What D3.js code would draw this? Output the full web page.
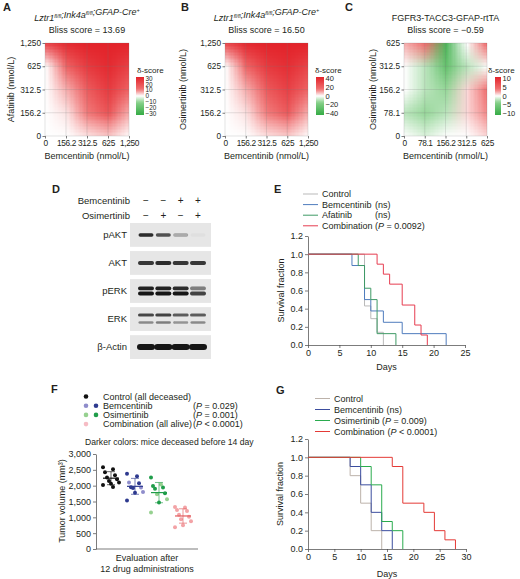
<!DOCTYPE html>
<html>
<head>
<meta charset="utf-8">
<script src="https://cdn.jsdelivr.net/npm/d3@7"></script>
<style>
body { margin: 0; background: #fff; }
svg { display: block; font-family: "Liberation Sans", Arial, sans-serif; }
text { fill: #231f20; }
</style>
</head>
<body>
<svg id="fig" width="520" height="579"></svg>
<script>
// ---- Data ----
// dose grids (tick labels)
const concA = ["0", "156.2", "312.5", "625", "1,250"];
const concC = ["0", "78.1", "156.2", "312.5", "625"];

// delta-scores at each dose pair, rows from highest dose (top) down to 0
const deltaA = [
    [22, 28, 30, 30, 30],
    [0, 14, 24, 28, 22],
    [0, 6, 16, 24, 14],
    [0, 2, 10, 18, 6],
    [0, 0, 2, 4, 0]
];
const deltaB = [
    [28, 38, 40, 40, 40],
    [0, 18, 32, 36, 28],
    [0, 8, 22, 30, 18],
    [0, 3, 13, 22, 8],
    [0, 0, 3, 5, 0]
];
const deltaC = [
    [2, 4, -8, 0, 5],
    [0, -2, -6, -2, 0],
    [0, -2, -3, 1, 4],
    [-2, -3, -2, 1, 3],
    [0, -1, 0, 0, 1]
];

// western blot band intensities per lane
const bemSigns = ["−", "−", "+", "+"];
const osiSigns = ["−", "+", "−", "+"];
const blotRows = ["pAKT", "AKT", "pERK", "ERK", "β-Actin"];
const pAKT = [0.9, 0.7, 0.3, 0.03];
const AKT = [0.85, 0.9, 0.85, 0.85];
const pERKupper = [0.95, 0.95, 0.9, 0.5];
const pERKlower = [1, 1, 1, 0.8];
const ERKupper = [0.75, 0.8, 0.65, 0.65];
const ERKlower = [0.45, 0.5, 0.4, 0.45];
const actin = [1, 1, 1, 1];

// survival curves E, [day, fraction]
const survEControl = [[0, 1], [9, 0.43], [10, 0.29], [11, 0.14], [12, 0]];
const survEBem = [[0, 1], [7, 0.875], [9, 0.5], [10, 0.375], [12, 0.25], [15, 0.125], [22, 0]];
const survEAfa = [[0, 1], [8, 0.875], [9, 0.625], [10, 0.5], [11, 0.125], [14, 0]];
const survECombo = [[0, 1], [11, 0.89], [12, 0.78], [13, 0.67], [15, 0.44], [17, 0.22], [18, 0.11], [19, 0]];

// survival curves G
const survGControl = [[0, 1], [8, 0.8], [10, 0.5], [12, 0.2], [14, 0]];
const survGBem = [[0, 1], [8, 0.9], [10, 0.7], [12, 0.4], [14, 0.2], [16, 0]];
const survGOsi = [[0, 1], [10, 0.9], [12, 0.7], [14, 0.3], [16, 0.2], [18, 0]];
const survGCombo = [[0, 1], [16, 0.9], [18, 0.5], [22, 0.4], [24, 0.2], [26, 0.1], [28, 0]];

// tumor volumes F (mm3), 1 = deceased before day 14
const groupsF = ["Control", "Bemcentinib", "Osimertinib", "Combination"];
const volControl = [2580, 2520, 2420, 2330, 2260, 2200, 2150, 2100, 2060, 2020, 1960];
const volBem = [2380, 2300, 2100, 2080, 1950, 1940, 1930, 1800, 1780, 1530];
const deadBem = [1, 1, 0, 1, 1, 0, 1, 0, 1, 1];
const volOsi = [2260, 2040, 1990, 1940, 1900, 1760, 1730, 1570, 1470, 1150];
const deadOsi = [1, 0, 1, 1, 1, 1, 0, 0, 1, 0];
const volCombo = [1330, 1310, 1230, 1200, 1080, 1020, 940, 880, 750, 690];

// ---- Drawing ----
const svg = d3.select("#fig");
const defs = svg.append("defs");
const red = "#e3232a", green = "#35ab45";
const font = "Liberation Sans, Arial, sans-serif";

function styleAxis(a, size) {
    a.attr("font-family", font).attr("font-size", size);
    a.selectAll("text").attr("fill", "#231f20");
    a.selectAll("line").attr("stroke", "#444").attr("stroke-width", 0.7);
    a.select(".domain").attr("stroke", "#444").attr("stroke-width", 0.7);
}

function panelLabel(txt, x, y) {
    svg.append("text").attr("x", x).attr("y", y)
        .attr("font-size", 11).attr("font-weight", "bold").text(txt);
}

function heatPanel(o) {
    const g = svg.append("g");
    const x = d3.scalePoint().domain(o.xConc).range([o.left, o.right]);
    const y = d3.scalePoint().domain(o.yConc).range([o.bottom, o.top]);
    const L = o.lim;
    const color = d3.scaleLinear()
        .domain([-L, -0.35 * L, 0, 0.35 * L, L])
        .range([green, "#86d089", "#ffffff", "#f07272", red]).clamp(true);

    // the dose grid is painted into a tiny canvas and smoothed by the browser
    const n = o.xConc.length, m = o.yConc.length;
    const cv = document.createElement("canvas");
    cv.width = n;
    cv.height = m;
    const ctx = cv.getContext("2d");
    const img = ctx.createImageData(n, m);
    o.values.forEach((row, r) => row.forEach((v, c) => {
        const col = d3.rgb(color(v));
        const i = (r * n + c) * 4;
        img.data[i] = col.r;
        img.data[i + 1] = col.g;
        img.data[i + 2] = col.b;
        img.data[i + 3] = 255;
    }));
    ctx.putImageData(img, 0, 0);

    defs.append("clipPath").attr("id", o.id + "clip").append("rect")
        .attr("x", o.left).attr("y", o.top)
        .attr("width", o.right - o.left).attr("height", o.bottom - o.top);
    g.append("image")
        .attr("href", cv.toDataURL())
        .attr("x", o.left - x.step() / 2).attr("y", o.top - y.step() / 2)
        .attr("width", x.step() * n).attr("height", y.step() * m)
        .attr("preserveAspectRatio", "none")
        .attr("clip-path", `url(#${o.id}clip)`);

    // grid
    g.selectAll(".vg").data(o.xConc).join("line")
        .attr("x1", d => x(d)).attr("x2", d => x(d))
        .attr("y1", o.top).attr("y2", o.bottom)
        .attr("stroke", "#777").attr("stroke-opacity", 0.35).attr("stroke-width", 0.6);
    g.selectAll(".hg").data(o.yConc).join("line")
        .attr("y1", d => y(d)).attr("y2", d => y(d))
        .attr("x1", o.left).attr("x2", o.right)
        .attr("stroke", "#777").attr("stroke-opacity", 0.35).attr("stroke-width", 0.6);

    const ay = g.append("g").attr("transform", `translate(${o.left},0)`)
        .call(d3.axisLeft(y).tickSize(2.5).tickPadding(1.5));
    const ax = g.append("g").attr("transform", `translate(0,${o.bottom})`)
        .call(d3.axisBottom(x).tickSize(2.5).tickPadding(1.5));
    [ay, ax].forEach(a => { styleAxis(a, 8.3); a.select(".domain").remove(); });
    ax.selectAll("text").attr("letter-spacing", -0.35);

    // titles
    const cx = (o.left + o.right) / 2;
    const t = g.append("text").attr("x", cx).attr("y", 21)
        .attr("text-anchor", "middle").attr("font-size", 9)
        .attr("font-style", o.italic ? "italic" : null);
    o.title.forEach(([s, sup]) => {
        if (sup) {
            t.append("tspan").attr("dy", -3).attr("font-size", 5.5).text(s);
            t.append("tspan").attr("dy", 3).text("");
        } else {
            t.append("tspan").text(s);
        }
    });
    g.append("text").attr("x", cx).attr("y", 32.5)
        .attr("text-anchor", "middle").attr("font-size", 9)
        .text("Bliss score = " + o.bliss);

    g.append("text").attr("x", cx).attr("y", 159)
        .attr("text-anchor", "middle").attr("font-size", 9).text(o.xLabel);
    g.append("text")
        .attr("transform", `translate(${o.yLabX},${(o.top + o.bottom) / 2}) rotate(-90)`)
        .attr("text-anchor", "middle").attr("font-size", 9).text(o.yLabel);

    // colour legend
    const grad = defs.append("linearGradient").attr("id", o.id + "grad")
        .attr("x1", 0).attr("y1", 0).attr("x2", 0).attr("y2", 1);
    d3.range(0, 1.001, 0.05).forEach(f => {
        grad.append("stop").attr("offset", f).attr("stop-color", color(L - 2 * L * f));
    });
    g.append("rect").attr("x", o.legX).attr("y", 77).attr("width", o.legW).attr("height", 38)
        .attr("fill", `url(#${o.id}grad)`);
    const ls = d3.scaleLinear().domain([L, -L]).range([78.5, 113.5]);
    g.selectAll(".lt").data(o.legTicks).join("text")
        .attr("x", o.legX + o.legW + 1.5).attr("y", d => ls(d)).attr("dy", "0.35em")
        .attr("font-size", o.legFont).text(d3.format("d"));
    g.append("text").attr("x", o.legTitleX).attr("y", 72.5).attr("font-size", 8).text("δ-score");
}

const genotype = [["Lztr1"], ["fl/fl", true], [";Ink4a"], ["fl/fl", true], [";GFAP-Cre"], ["+", true]];

panelLabel("A", 3, 11);
heatPanel({
    id: "A", left: 45, right: 129, top: 43, bottom: 136,
    xConc: concA, yConc: concA, values: deltaA, lim: 30,
    title: genotype, italic: true, bliss: "13.69",
    xLabel: "Bemcentinib (nmol/L)", yLabel: "Afatinib (nmol/L)", yLabX: 14,
    legX: 136, legW: 8, legTitleX: 137, legTicks: [30, 20, 10, 0, -10, -20, -30], legFont: 6.4
});
panelLabel("B", 181, 11);
heatPanel({
    id: "B", left: 225, right: 308, top: 43, bottom: 136,
    xConc: concA, yConc: concA, values: deltaB, lim: 40,
    title: genotype, italic: true, bliss: "16.50",
    xLabel: "Bemcentinib (nmol/L)", yLabel: "Osimertinib (nmol/L)", yLabX: 185.5,
    legX: 316, legW: 8, legTitleX: 315, legTicks: [40, 20, 0, -20, -40], legFont: 7.5
});
panelLabel("C", 345, 11);
heatPanel({
    id: "C", left: 404, right: 487, top: 43, bottom: 136,
    xConc: concC, yConc: concC, values: deltaC, lim: 10,
    title: [["FGFR3-TACC3-GFAP-rtTA"]], italic: false, bliss: "−0.59",
    xLabel: "Bemcentinib (nmol/L)", yLabel: "Osimertinib (nmol/L)", yLabX: 375.5,
    legX: 495, legW: 6, legTitleX: 488, legTicks: [10, 5, 0, -5, -10], legFont: 7.5
});

// ---- D: western blot ----
panelLabel("D", 52, 193);
const lane = d3.scalePoint().domain([0, 1, 2, 3]).range([146, 198]);
const rowY = d3.scaleBand().domain(blotRows).range([223, 359]).paddingInner(0.15);
const blotBands = {
    "pAKT": [{ v: pAKT, dy: 0, h: 3.5, w: 15 }],
    "AKT": [{ v: AKT, dy: 0, h: 4, w: 16 }],
    "pERK": [{ v: pERKupper, dy: -2.6, h: 3.6, w: 16 }, { v: pERKlower, dy: 2.4, h: 4, w: 16 }],
    "ERK": [{ v: ERKupper, dy: -4, h: 3, w: 16 }, { v: ERKlower, dy: 3.5, h: 2.6, w: 15 }],
    "β-Actin": [{ v: actin, dy: 0, h: 6, w: 18 }]
};
defs.append("filter").attr("id", "blur").attr("x", "-20%").attr("y", "-50%")
    .attr("width", "140%").attr("height", "200%")
    .append("feGaussianBlur").attr("stdDeviation", 0.7);

svg.append("text").attr("x", 130).attr("y", 203.5).attr("text-anchor", "end")
    .attr("font-size", 9.5).text("Bemcentinib");
svg.append("text").attr("x", 130).attr("y", 218.5).attr("text-anchor", "end")
    .attr("font-size", 9.5).text("Osimertinib");
svg.selectAll(".bs").data(bemSigns).join("text")
    .attr("x", (d, i) => lane(i)).attr("y", 203.5).attr("text-anchor", "middle")
    .attr("font-size", 10).text(d => d);
svg.selectAll(".os").data(osiSigns).join("text")
    .attr("x", (d, i) => lane(i)).attr("y", 218.5).attr("text-anchor", "middle")
    .attr("font-size", 10).text(d => d);

blotRows.forEach(r => {
    const y0 = rowY(r), bh = rowY.bandwidth(), cy = y0 + bh / 2;
    svg.append("rect").attr("x", 130).attr("y", y0).attr("width", 81).attr("height", bh)
        .attr("fill", "#e6e6e6");
    svg.append("text").attr("x", 127).attr("y", cy).attr("dy", "0.35em")
        .attr("text-anchor", "end").attr("font-size", 9.5).text(r);
    blotBands[r].forEach(b => {
        svg.append("g").attr("filter", "url(#blur)")
            .selectAll("rect").data(b.v).join("rect")
            .attr("x", (d, i) => lane(i) - b.w / 2).attr("width", b.w)
            .attr("y", cy + b.dy - b.h / 2).attr("height", b.h)
            .attr("rx", b.h / 2)
            .attr("fill", "#151515").attr("fill-opacity", d => d);
    });
});

// ---- Survival panels ----
function kmPanel(o) {
    const g = svg.append("g");
    const x = d3.scaleLinear().domain([0, o.xMax]).range([o.x0, o.x1]);
    const y = d3.scaleLinear().domain([0, 1.2]).range([o.y0, o.y1]);
    const ax = g.append("g").attr("transform", `translate(0,${o.y0})`)
        .call(d3.axisBottom(x).tickValues(d3.range(0, o.xMax + 1, 5))
            .tickSize(3).tickSizeOuter(0).tickPadding(1.5));
    const ay = g.append("g").attr("transform", `translate(${o.x0},0)`)
        .call(d3.axisLeft(y).tickValues(d3.range(0, 1.21, 0.2)).tickFormat(d3.format(".1f"))
            .tickSize(3).tickSizeOuter(0).tickPadding(2));
    styleAxis(ax, 9);
    styleAxis(ay, 9);

    const line = d3.line().x(d => x(d[0])).y(d => y(d[1])).curve(d3.curveStepAfter);
    o.series.forEach(s => {
        g.append("path").attr("d", line(s.data)).attr("fill", "none")
            .attr("stroke", s.color).attr("stroke-width", 1);
    });

    g.append("text")
        .attr("transform", `translate(${o.yLabX},${(o.y0 + o.y1) / 2}) rotate(-90)`)
        .attr("text-anchor", "middle").attr("font-size", 9).text("Survival fraction");
    g.append("text").attr("x", (o.x0 + o.x1) / 2).attr("y", o.daysY)
        .attr("text-anchor", "middle").attr("font-size", 9).text("Days");

    o.series.forEach((s, i) => {
        const ly = o.legY + i * o.legStep;
        g.append("line").attr("x1", o.legX).attr("x2", o.legX + 15)
            .attr("y1", ly).attr("y2", ly).attr("stroke", s.color).attr("stroke-width", 1);
        const t = g.append("text").attr("x", o.legX + 19).attr("y", ly).attr("dy", "0.35em")
            .attr("font-size", 9).text(s.name);
        if (s.stat) {
            const st = g.append("text").attr("y", ly).attr("dy", "0.35em").attr("font-size", 9);
            if (s.statX) st.attr("x", s.statX);
            else st.attr("x", o.legX + 19 + t.node().getComputedTextLength() + 3);
            st.append("tspan").text(s.stat[0]);
            if (s.stat[1]) {
                st.append("tspan").attr("font-style", "italic").text(s.stat[1]);
                st.append("tspan").text(s.stat[2]);
            }
        }
    });
}

panelLabel("E", 274, 193);
kmPanel({
    x0: 308, x1: 465, y0: 345, y1: 236, xMax: 25, yLabX: 284, daysY: 369.5,
    legX: 303, legY: 194, legStep: 10.6,
    series: [
        { name: "Control", color: "#b9b9b9", data: survEControl },
        { name: "Bemcentinib", color: "#4f7cbd", data: survEBem, stat: ["(ns)"], statX: 375 },
        { name: "Afatinib", color: "#3f9a66", data: survEAfa, stat: ["(ns)"], statX: 375 },
        { name: "Combination", color: "#e63d50", data: survECombo, stat: ["(", "P", " = 0.0092)"], statX: 375 }
    ]
});

panelLabel("G", 276, 394);
kmPanel({
    x0: 308, x1: 466, y0: 549, y1: 439, xMax: 30, yLabX: 283, daysY: 577,
    legX: 315, legY: 398.5, legStep: 11,
    series: [
        { name: "Control", color: "#bcb2aa", data: survGControl },
        { name: "Bemcentinib", color: "#3b4d9e", data: survGBem, stat: ["(ns)"] },
        { name: "Osimertinib", color: "#2aab4e", data: survGOsi, stat: ["(", "P", " = 0.009)"], statX: 382 },
        { name: "Combination", color: "#e43a36", data: survGCombo, stat: ["(", "P", " < 0.0001)"] }
    ]
});

// ---- F: tumor volume ----
panelLabel("F", 51, 393);
const fCol = {
    Control: { dark: "#111111", light: "#111111", bar: "#111111" },
    Bemcentinib: { dark: "#2e3a8f", light: "#8f8dcb", bar: "#2e3a8f" },
    Osimertinib: { dark: "#1f9d4a", light: "#96d190", bar: "#1f9d4a" },
    Combination: { dark: "#f08b8e", light: "#f3a3a6", bar: "#e25a5c" }
};
const fLegend = [
    { g: "Control", name: "Control (all deceased)", dots: ["light"], p: "" },
    { g: "Bemcentinib", name: "Bemcentinib", dots: ["light", "dark"], p: " = 0.029)" },
    { g: "Osimertinib", name: "Osimertinib", dots: ["light", "dark"], p: " = 0.001)" },
    { g: "Combination", name: "Combination (all alive)", dots: ["light"], p: " < 0.0001)" }
];
fLegend.forEach((d, i) => {
    const ly = 396.5 + i * 9.2;
    d.dots.forEach((k, j) => {
        svg.append("circle").attr("cx", 86 + j * 10).attr("cy", ly).attr("r", 2.3)
            .attr("fill", d.g === "Combination" ? "#f6bcc4" : fCol[d.g][k]);
    });
    svg.append("text").attr("x", 103).attr("y", ly).attr("dy", "0.35em")
        .attr("font-size", 9).text(d.name);
    if (d.p) {
        const t = svg.append("text").attr("x", 193).attr("y", ly).attr("dy", "0.35em").attr("font-size", 9);
        t.append("tspan").text("(");
        t.append("tspan").attr("font-style", "italic").text("P");
        t.append("tspan").text(d.p);
    }
});
svg.append("text").attr("x", 85).attr("y", 445).attr("font-size", 8.6)
    .text("Darker colors: mice deceased before 14 day");

const fx = d3.scalePoint().domain(groupsF).range([111, 183]);
const fy = d3.scaleLinear().domain([0, 3000]).range([549, 454]);
const fay = svg.append("g").attr("transform", "translate(96,0)")
    .call(d3.axisLeft(fy).tickValues(d3.range(0, 3001, 500)).tickFormat(d3.format(","))
        .tickSize(3).tickSizeOuter(0).tickPadding(2));
styleAxis(fay, 9);
svg.append("line").attr("x1", 96).attr("x2", 198).attr("y1", 549).attr("y2", 549)
    .attr("stroke", "#444").attr("stroke-width", 0.7);
svg.append("text").attr("transform", "translate(65,501) rotate(-90)")
    .attr("text-anchor", "middle").attr("font-size", 9).text("Tumor volume (mm³)");
svg.append("text").attr("x", 147).attr("y", 561).attr("text-anchor", "middle")
    .attr("font-size", 9).text("Evaluation after");
svg.append("text").attr("x", 147).attr("y", 571.5).attr("text-anchor", "middle")
    .attr("font-size", 9).text("12 drug administrations");

const fSets = [
    { g: "Control", v: volControl, dead: volControl.map(() => 1) },
    { g: "Bemcentinib", v: volBem, dead: deadBem },
    { g: "Osimertinib", v: volOsi, dead: deadOsi },
    { g: "Combination", v: volCombo, dead: volCombo.map(() => 0) }
];
fSets.forEach(s => {
    const cx = fx(s.g);
    const mean = d3.mean(s.v), sd = d3.deviation(s.v);
    const c = fCol[s.g];
    // simple deterministic spread of the points
    svg.append("g").selectAll("circle").data(s.v).join("circle")
        .attr("cx", (d, i) => cx + ((i * 5) % 9 - 4) * 2)
        .attr("cy", d => fy(d)).attr("r", 2)
        .attr("fill", (d, i) => s.dead[i] ? c.dark : c.light);
    svg.append("line").attr("x1", cx).attr("x2", cx)
        .attr("y1", fy(mean - sd)).attr("y2", fy(mean + sd))
        .attr("stroke", c.bar).attr("stroke-width", 0.8).attr("stroke-opacity", 0.8);
    [mean - sd, mean + sd].forEach(v => {
        svg.append("line").attr("x1", cx - 4).attr("x2", cx + 4)
            .attr("y1", fy(v)).attr("y2", fy(v))
            .attr("stroke", c.bar).attr("stroke-width", 0.8).attr("stroke-opacity", 0.8);
    });
    svg.append("line").attr("x1", cx - 8).attr("x2", cx + 8)
        .attr("y1", fy(mean)).attr("y2", fy(mean))
        .attr("stroke", c.bar).attr("stroke-width", 1.2);
});
</script>
</body>
</html>
